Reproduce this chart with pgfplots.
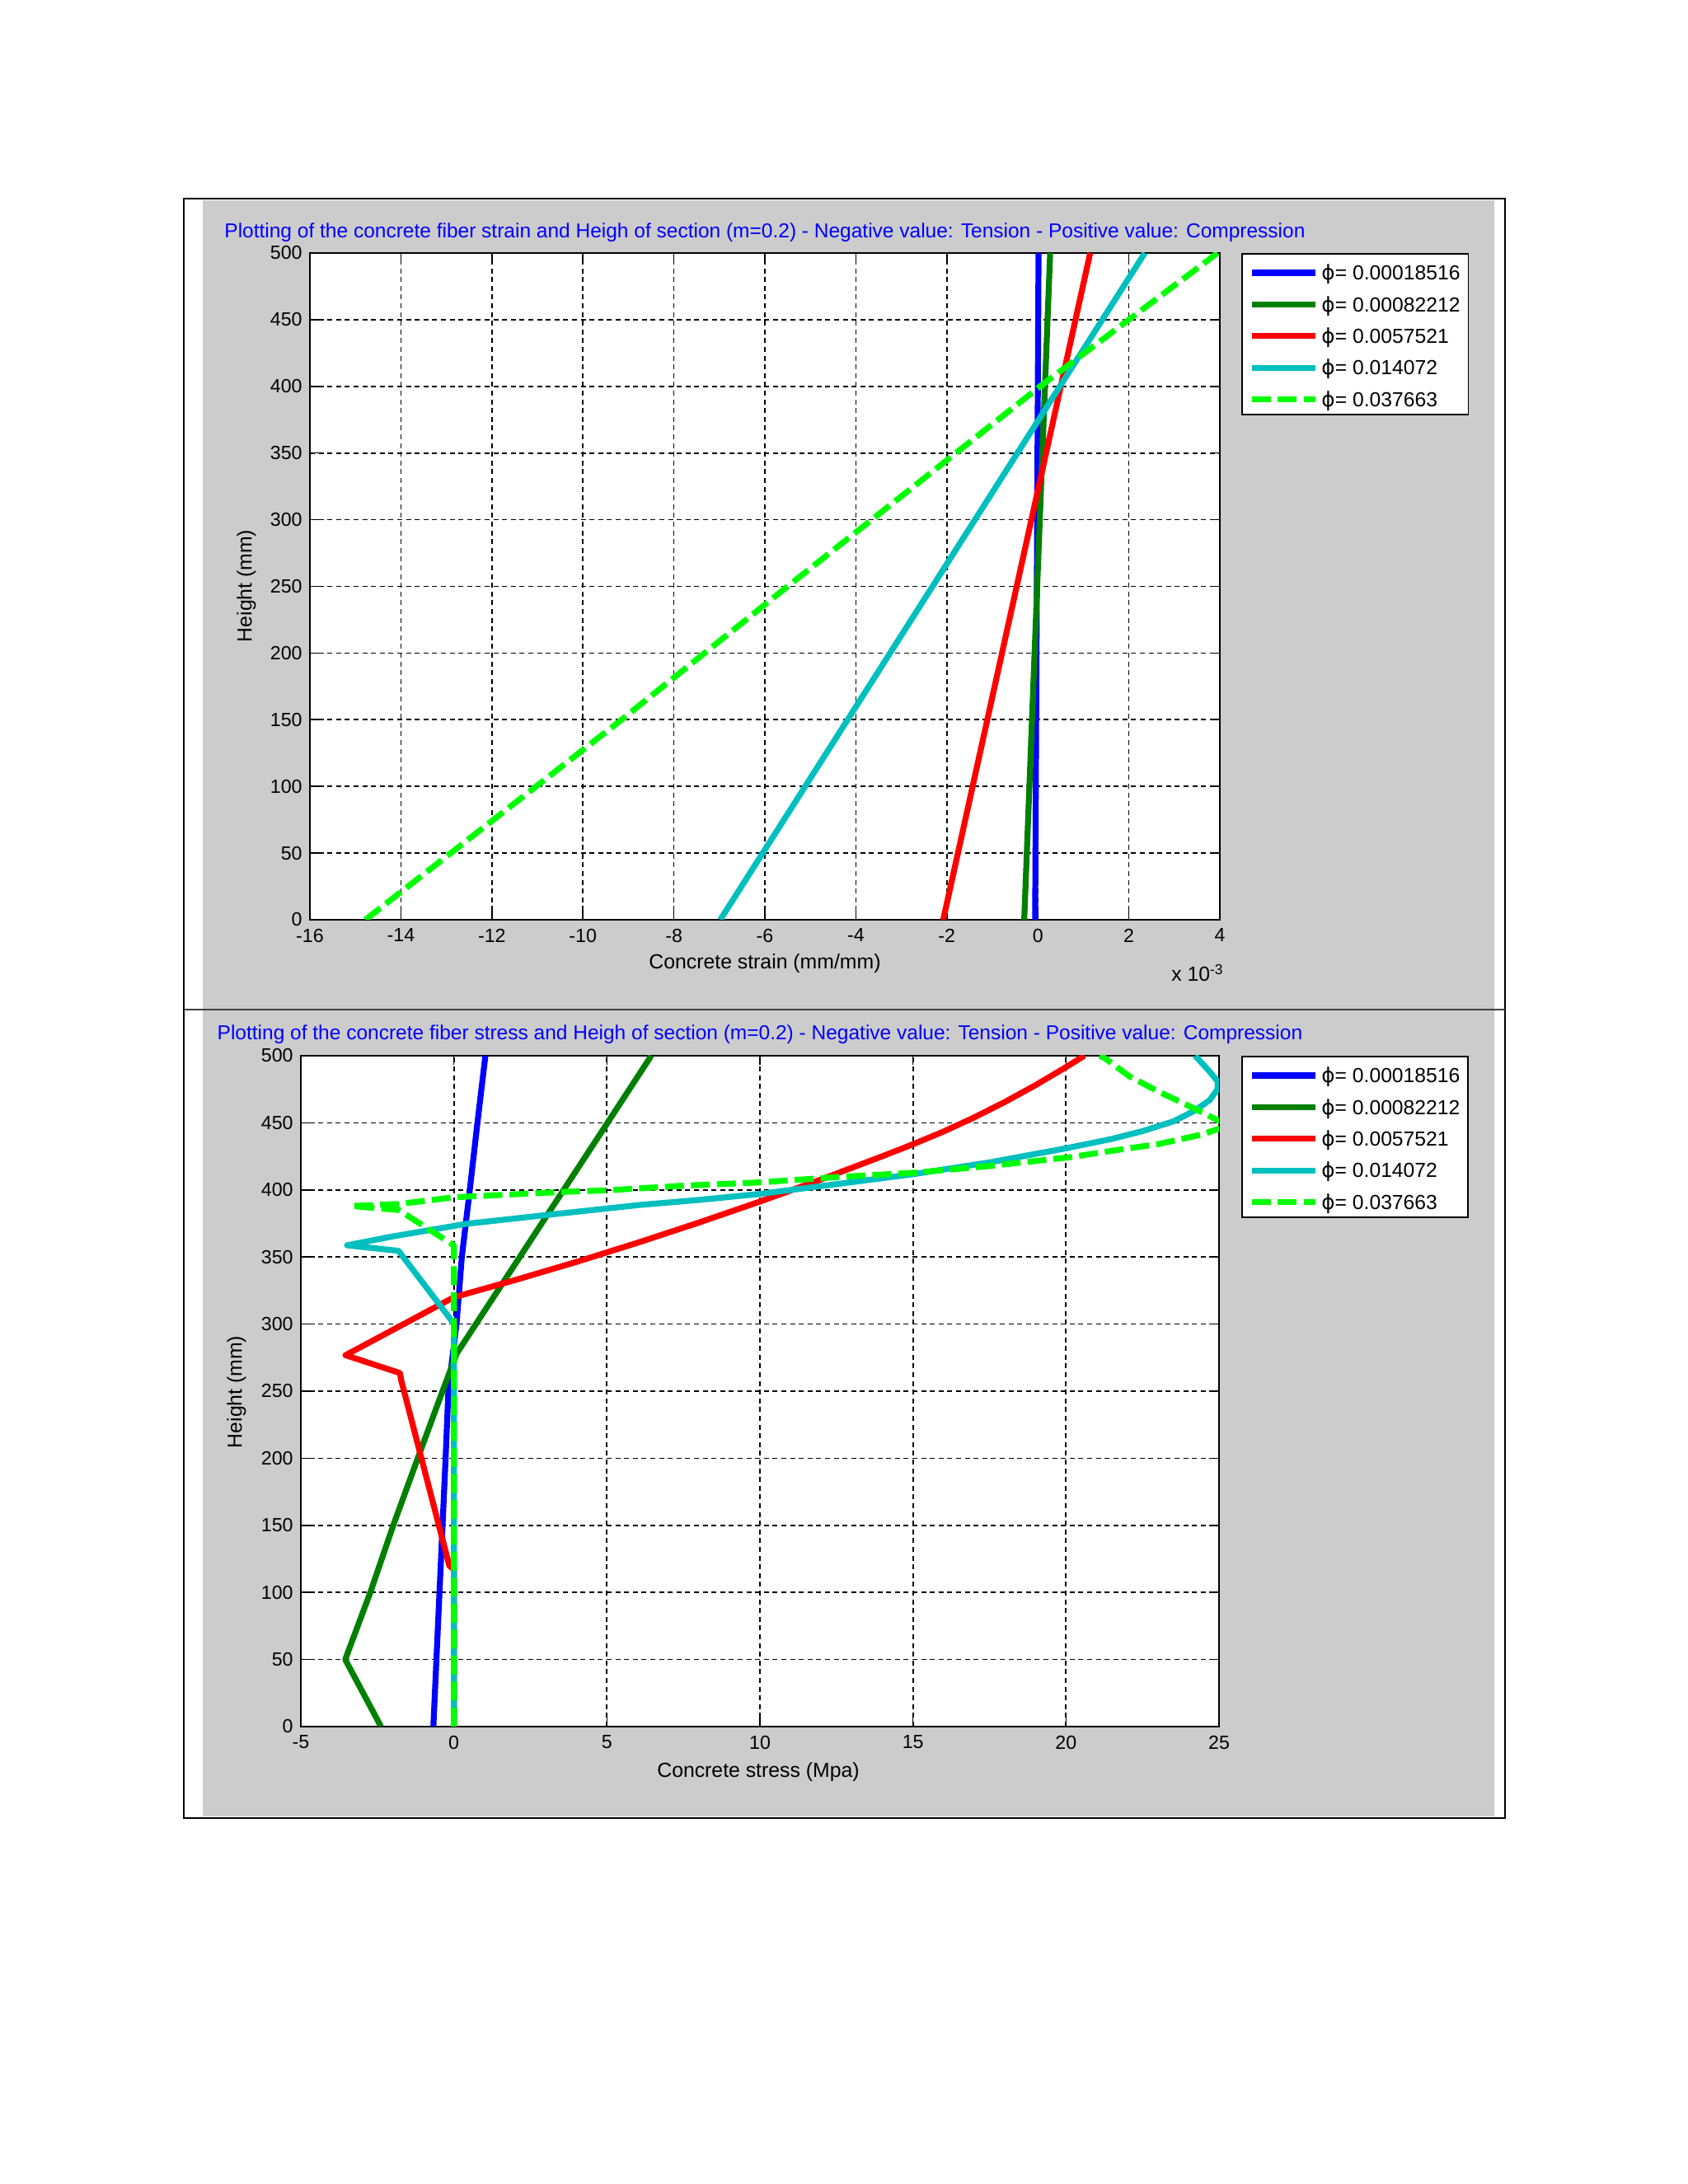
\documentclass[border=0pt]{standalone}
\usepackage{pgfplots}
\pgfplotsset{compat=1.18}
\usepackage{fontspec}
\setmainfont{Liberation Sans}
\newfontfamily\dejavu{DejaVu Sans}
\definecolor{mblue}{rgb}{0,0,1}
\definecolor{mdgreen}{rgb}{0,0.5,0}
\definecolor{mred}{rgb}{1,0,0}
\definecolor{mcyan}{rgb}{0,0.75,0.75}
\definecolor{mgreen}{rgb}{0,1,0}
\definecolor{mgray}{rgb}{0.8,0.8,0.8}
\newcommand{\lblfont}{\fontsize{12.4}{14}\selectfont}
\newcommand{\ttlfont}{\fontsize{12.25}{14}\selectfont}
\newcommand{\ph}{{\dejavu ϕ}}
\pgfplotsset{
  mstyle/.style={
    scale only axis,
    axis background/.style={fill=white},
    ymin=0, ymax=500, ytick={0,50,...,500},
    yticklabels={0,50,100,150,200,250,300,350,400,450,500},
    tick align=inside, major tick length=5.5pt,
    every tick/.style={black, line width=0.8pt},
    axis line style={line width=0.8pt},
    grid=major,
    major grid style={black, line width=0.85pt, dash pattern=on 3pt off 2.3pt},
    tick label style={font=\fontsize{11.6}{13}\selectfont},
    xticklabel style={inner sep=0pt, yshift=-5.3pt},
    yticklabel style={inner sep=0pt, xshift=-4.5pt},
    legend cell align=left,
    legend style={anchor=north west, draw=black, line width=0.8pt, fill=white,
      font=\fontsize{12.35}{14}\selectfont, inner xsep=4.2pt, inner ysep=4.3pt,
      row sep=7.1pt, nodes={inner sep=0pt, text height=11.7pt, text depth=0.4pt}},
    legend image code/.code={\draw[##1] (0pt,-1.25pt) -- (38.5pt,-1.25pt); \path (40.5pt,0pt);},
    every axis plot/.append style={line width=3.6pt, line join=round},
  },
  mdash/.style={mgreen, dash pattern=on 11.5pt off 4.25pt},
}
\begin{document}
\begin{tikzpicture}
% page and figure window
\fill[white] (0pt,0pt) rectangle (1024pt,1325pt);
\fill[mgray] (123pt,223pt) rectangle (906.5pt,1203.5pt);
\draw[black, line width=1pt] (111.5pt,222pt) rectangle (913pt,1204.5pt);
\draw[black!75, line width=1pt] (111.5pt,712.5pt) -- (913pt,712.5pt);

% ---------- top: strain ----------
\begin{axis}[mstyle, at={(188pt,767pt)}, anchor=south west,
  width=552pt, height=404.5pt,
  xmin=-16, xmax=4, xtick={-16,-14,...,4},
  xticklabels={-16,-14,-12,-10,-8,-6,-4,-2,0,2,4},
  legend style={at={(1.0236,1)}}]
\addplot[mblue] table {
-0.06 0
0.015 500
};
\addlegendentry{\ph= 0.00018516\hspace*{0.7pt}}
\addplot[mdgreen] table {
-0.30 0
0.27 500
};
\addlegendentry{\ph= 0.00082212\hspace*{0.7pt}}
\addplot[mred] table {
-2.08 0
1.15 500
};
\addlegendentry{\ph= 0.0057521}
\addplot[mcyan] table {
-6.98 0
2.35 500
};
\addlegendentry{\ph= 0.014072}
\addplot[mdash] table {
-14.78 0
-9.15 150
-5.50 250
0.05 400
3.95 500
};
\addlegendentry{\ph= 0.037663}
\end{axis}

% ---------- bottom: stress ----------
\begin{axis}[mstyle, at={(182.5pt,277.5pt)}, anchor=south west,
  width=557pt, height=407pt,
  xmin=-5, xmax=25, xtick={-5,0,...,25},
  xticklabels={-5,0,5,10,15,20,25},
  legend style={at={(1.0242,1)}}]
\addplot[mblue] table {
-0.67 0
-0.47 100
-0.27 200
-0.18 250
0.09 301
0.26 350
0.52 400
0.77 450
1.03 500
};
\addlegendentry{\ph= 0.00018516\hspace*{0.7pt}}
\addplot[mdgreen] table {
-2.38 0
-3.55 50
-2.73 100
-1.98 150
-1.18 200
-0.37 250
0.09 278
5.02 450
6.45 500
};
\addlegendentry{\ph= 0.00082212\hspace*{0.7pt}}
\addplot[mred] table {
0 0
0 117
-0.15 120
-1.72 258
-1.76 263.5
-3.54 276.8
0 320
2 332.8
4 346.3
6 360.6
8 375.6
10 391.3
12 407.8
14 425.1
15 434.0
16 443.5
17 454.0
18 465.5
19 478.0
20 491.5
20.6 500
};
\addlegendentry{\ph= 0.0057521}
\addplot[mcyan] table {
0 0
0 300
-0.17 305.5
-1.81 354.6
-3.49 358.7
-2.10 364.9
0.40 374.7
3.19 381.7
6.08 388.8
8 392.5
10 397
12.6 404.6
15 411.7
17.5 420.5
20 431
21.5 438
22.5 443.8
23.5 451
24.2 459
24.7 467
24.95 475
24.95 481
24.7 488
24.22 500
};
\addlegendentry{\ph= 0.014072}
\addplot[mdash] table {
0 0
0 358.7
-1.8 385
-3.35 388
-1.8 389.5
0 394.5
3.67 398.6
5.02 399.7
7.55 403.2
10 405.6
12.6 409.7
15 412.7
17.46 417.7
20.18 424.5
21.6 429.5
23.03 434.2
24.46 441.4
25.3 448
24.17 460.9
23.03 473.2
22.08 484.5
21.23 498.8
21.1 500
};
\addlegendentry{\ph= 0.037663}
\end{axis}

% ---------- texts ----------
\node[anchor=base, text=blue, font=\ttlfont] at (464pt,1180.9pt)
  {Plotting of the concrete fiber strain and Heigh of section (m=0.2) - Negative value: Tension - Positive value: Compression};
\node[anchor=base, font=\lblfont] at (464pt,737pt) {Concrete strain (mm/mm)};
\node[rotate=90, font=\lblfont] at (149.5pt,969.5pt) {Height (mm)};
\node[anchor=base east, font=\lblfont, inner sep=0pt] at (742.5pt,729.5pt) {x 10\textsuperscript{-3}};

\node[anchor=base, text=blue, font=\ttlfont] at (461pt,694.2pt)
  {Plotting of the concrete fiber stress and Heigh of section (m=0.2) - Negative value: Tension - Positive value: Compression};
\node[anchor=base, font=\lblfont] at (460pt,246.5pt) {Concrete stress (Mpa)};
\node[rotate=90, font=\lblfont] at (143.5pt,480.5pt) {Height (mm)};
\end{tikzpicture}
\end{document}
